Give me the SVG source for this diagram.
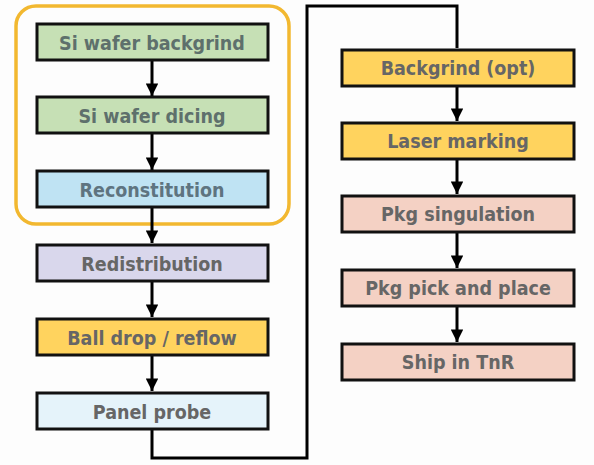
<svg xmlns="http://www.w3.org/2000/svg" width="594" height="465" viewBox="0 0 594 465">
<defs>
<style>
.box{stroke:#111;stroke-width:3}
.t{font-family:"DejaVu Sans Condensed","DejaVu Sans",sans-serif;font-weight:bold;font-size:19.5px;fill:#666;text-anchor:middle;dominant-baseline:central}
.c{fill:none;stroke:#000;stroke-width:3}
</style>
<marker id="ah" viewBox="0 0 10 10" refX="10" refY="5" markerWidth="4.6" markerHeight="4.2" markerUnits="strokeWidth" orient="auto"><path d="M0,0 L10,5 L0,10 z" fill="#000"/></marker>
</defs>
<rect width="594" height="465" fill="#fdfdfd"/>
<rect id="group-frame" x="16" y="6" width="273" height="218" rx="20" fill="none" stroke="#F2B830" stroke-width="3.5"/>
<g id="connectors">
<line class="c" x1="152" y1="60" x2="152" y2="96" marker-end="url(#ah)"/>
<line class="c" x1="152" y1="133" x2="152" y2="170" marker-end="url(#ah)"/>
<line class="c" x1="152" y1="207" x2="152" y2="243" marker-end="url(#ah)"/>
<line class="c" x1="152" y1="281" x2="152" y2="317" marker-end="url(#ah)"/>
<line class="c" x1="152" y1="355" x2="152" y2="391" marker-end="url(#ah)"/>
<polyline class="c" points="152,429 152,458 307,458 307,6 457,6 457,48"/>
<line class="c" x1="457" y1="86" x2="457" y2="121" marker-end="url(#ah)"/>
<line class="c" x1="457" y1="159" x2="457" y2="194" marker-end="url(#ah)"/>
<line class="c" x1="457" y1="232" x2="457" y2="268" marker-end="url(#ah)"/>
<line class="c" x1="457" y1="306" x2="457" y2="342" marker-end="url(#ah)"/>
</g>
<g id="n1"><rect class="box" x="37" y="24" width="231" height="36" fill="#C6E0B5"/><text class="t" x="152" y="43" style="fill:#5E706C">Si wafer backgrind</text></g>
<g id="n2"><rect class="box" x="37" y="97" width="231" height="36" fill="#C6E0B5"/><text class="t" x="152" y="116" style="fill:#5E706C">Si wafer dicing</text></g>
<g id="n3"><rect class="box" x="37" y="171" width="231" height="36" fill="#BFE3F3"/><text class="t" x="152" y="190" style="fill:#5E7480">Reconstitution</text></g>
<g id="n4"><rect class="box" x="37" y="245" width="231" height="36" fill="#D9D7EC"/><text class="t" x="152" y="264">Redistribution</text></g>
<g id="n5"><rect class="box" x="37" y="319" width="231" height="36" fill="#FFD35E"/><text class="t" x="152" y="338">Ball drop / reflow</text></g>
<g id="n6"><rect class="box" x="37" y="393" width="231" height="36" fill="#E5F3FA"/><text class="t" x="152" y="412">Panel probe</text></g>
<g id="n7"><rect class="box" x="342" y="50" width="232" height="36" fill="#FFD35E"/><text class="t" x="458" y="68">Backgrind (opt)</text></g>
<g id="n8"><rect class="box" x="342" y="123" width="232" height="36" fill="#FFD35E"/><text class="t" x="458" y="141">Laser marking</text></g>
<g id="n9"><rect class="box" x="342" y="196" width="232" height="36" fill="#F4D1C4"/><text class="t" x="458" y="214">Pkg singulation</text></g>
<g id="n10"><rect class="box" x="342" y="270" width="232" height="36" fill="#F4D1C4"/><text class="t" x="458" y="288">Pkg pick and place</text></g>
<g id="n11"><rect class="box" x="342" y="344" width="232" height="36" fill="#F4D1C4"/><text class="t" x="458" y="362">Ship in TnR</text></g>
</svg>
